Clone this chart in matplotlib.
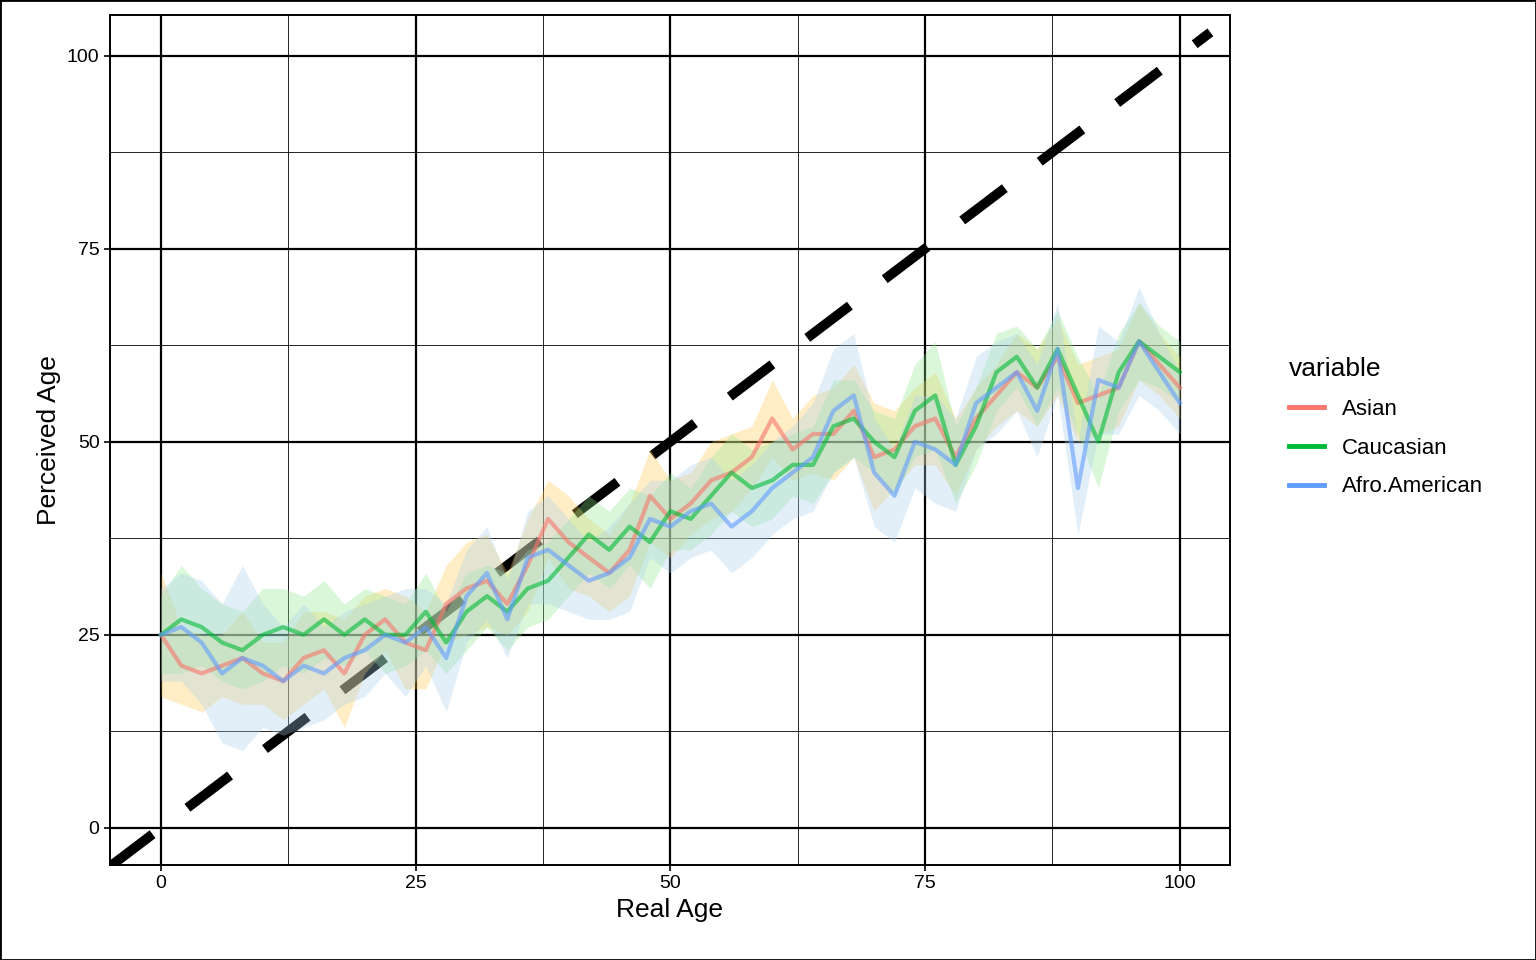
import matplotlib
matplotlib.use("Agg")
from matplotlib import pyplot as plt
from matplotlib.lines import Line2D
import numpy as np

plt.rcParams["font.family"] = ["Liberation Sans", "DejaVu Sans"]

ages = list(range(0, 101, 2))
asian = [25, 21, 20, 21, 22, 20, 19, 22, 23, 20, 25, 27, 24, 23, 29, 31, 32, 29, 34, 40,
         37, 35, 33, 36, 43, 40, 42, 45, 46, 48, 53, 49, 51, 51, 54, 48, 49, 52, 53, 48,
         53, 56, 59, 57, 61, 55, 56, 57, 63, 60, 57]
caucasian = [25, 27, 26, 24, 23, 25, 26, 25, 27, 25, 27, 25, 25, 28, 24, 28, 30, 28, 31, 32,
             35, 38, 36, 39, 37, 41, 40, 43, 46, 44, 45, 47, 47, 52, 53, 50, 48, 54, 56, 47,
             52, 59, 61, 57, 62, 56, 50, 59, 63, 61, 59]
afro = [25, 26, 24, 20, 22, 21, 19, 21, 20, 22, 23, 25, 24, 26, 22, 30, 33, 27, 35, 36,
        34, 32, 33, 35, 40, 39, 41, 42, 39, 41, 44, 46, 48, 54, 56, 46, 43, 50, 49, 47,
        55, 57, 59, 54, 62, 44, 58, 57, 63, 59, 55]
# ribbon half-widths
asian_sd = [8, 5, 5, 4, 6, 4, 5, 6, 5, 7, 5, 4, 6, 5, 5, 6, 6, 4, 6, 5,
            6, 5, 5, 6, 6, 5, 4, 5, 5, 4, 5, 4, 5, 6, 6, 7, 5, 5, 6, 5,
            4, 4, 5, 5, 5, 5, 5, 5, 5, 4, 4]
caucasian_sd = [5, 7, 5, 5, 5, 6, 5, 5, 5, 4, 4, 5, 4, 5, 4, 5, 4, 5, 5, 5,
                5, 5, 5, 5, 6, 5, 4, 5, 5, 5, 5, 4, 5, 6, 5, 4, 5, 6, 7, 5,
                5, 5, 4, 5, 5, 5, 6, 5, 5, 4, 4]
afro_sd = [6, 7, 8, 9, 12, 8, 7, 8, 6, 6, 6, 5, 7, 5, 7, 6, 6, 5, 6, 7,
           6, 5, 6, 7, 5, 6, 6, 6, 6, 6, 6, 6, 7, 8, 8, 7, 6, 6, 7, 6,
           6, 6, 5, 6, 6, 6, 7, 6, 7, 5, 4]

series = [
    ("Asian", asian, asian_sd, "#F8766D", "#FFC94D"),
    ("Caucasian", caucasian, caucasian_sd, "#00BA38", "#8EE88E"),
    ("Afro.American", afro, afro_sd, "#619CFF", "#A9D0EC"),
]

fig = plt.figure(figsize=(15.36, 9.6), dpi=100)
ax = fig.add_axes([0.0716, 0.099, 0.729, 0.885])

ax.set_xlim(-5, 104.9)
ax.set_ylim(-4.8, 105.2)
ax.set_xticks([0, 25, 50, 75, 100])
ax.set_yticks([0, 25, 50, 75, 100])
ax.set_xticks([12.5, 37.5, 62.5, 87.5], minor=True)
ax.set_yticks([12.5, 37.5, 62.5, 87.5], minor=True)
ax.grid(which="major", color="black", linewidth=1.6, zorder=0)
ax.grid(which="minor", color="black", linewidth=0.6, zorder=0)
ax.set_axisbelow(True)
for s in ax.spines.values():
    s.set_linewidth(1.4)
ax.tick_params(which="minor", length=0)
ax.tick_params(which="major", length=4, width=1.2, labelsize=14)

ax.plot([-5, 103], [-5, 103], color="black", linewidth=7,
        linestyle=(0, (5.5, 4.5)), zorder=1)

for name, vals, sd, col, fill in series:
    v = np.array(vals)
    w = np.array(sd)
    ax.fill_between(ages, v - w, v + w, color=fill, alpha=0.32, linewidth=0, zorder=2)
for name, vals, sd, col, fill in series:
    ax.plot(ages, vals, color=col, linewidth=3, alpha=0.6, zorder=3)

ax.set_xlabel("Real Age", fontsize=19)
ax.set_ylabel("Perceived Age", fontsize=19)

handles = [Line2D([], [], color=c, linewidth=3.5) for _, _, _, c, _ in series]
leg = fig.legend(handles, [s[0] for s in series], title="variable",
                 loc="center left", bbox_to_anchor=(0.826, 0.555), frameon=False,
                 fontsize=16, title_fontsize=19, handlelength=1.6, labelspacing=0.8)
leg._legend_box.align = "left"

fig.patches.append(plt.Rectangle((0, 0), 1, 1, transform=fig.transFigure,
                                 fill=False, edgecolor="black", linewidth=2))
fig.savefig("out.png", dpi=100)
